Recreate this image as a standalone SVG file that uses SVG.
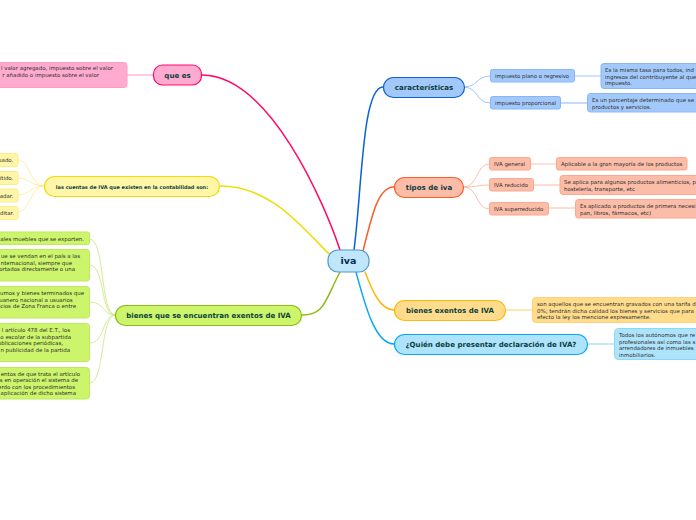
<svg xmlns="http://www.w3.org/2000/svg" width="696" height="520" viewBox="0 0 696 520">
<style>
text{font-family:"DejaVu Sans",Verdana,sans-serif}
.m{font-size:7.05px;font-weight:700;fill:#0c3f3f;text-anchor:middle}
.l{font-size:5.45px;fill:#2e2e2e}
.e{text-anchor:end}
.c{fill:none;stroke-linecap:round}
.t{stroke-width:1.5}
.s{stroke-width:.8}
.d{stroke-width:1.4}
.pink{fill:#ffabcf;stroke:#ff0a6c;stroke-width:1.2}.pinkl{fill:#ffabcf;stroke:#ff9cc6}
.yel{fill:#fff6a8;stroke:#f0dc0a;stroke-width:1.2}.yell{fill:#fff6a8;stroke:#fdeb8c}
.grn{fill:#ccf56c;stroke:#8cbc10;stroke-width:1.2}.grnl{fill:#ccf56c;stroke:#bfe860}
.blu{fill:#a3c9fb;stroke:#0b62d8;stroke-width:1.2}.blul{fill:#a3c9fb;stroke:#86b6f8}
.org{fill:#fbbca8;stroke:#f95e2c;stroke-width:1.2}.orgl{fill:#fbbca8;stroke:#fba88e}
.amb{fill:#ffdc8c;stroke:#ffb80a;stroke-width:1.2}.ambl{fill:#ffdc8c;stroke:#ffd27a}
.cya{fill:#aee3fc;stroke:#0aa8f2;stroke-width:1.2}.cyal{fill:#aee3fc;stroke:#8cd6fa}
</style>
<g id="connectors">
<path class="c t" stroke="#ff0a6c" d="M340 250C325 205 270 75 202 75"/>
<path class="c t" stroke="#f0dc0a" d="M330 255C300 225 270 186 220 186"/>
<path class="c t" stroke="#8cbc10" d="M340 272C325 300 325 315 302 315"/>
<path class="c t" stroke="#0b62d8" d="M354 250C362 190 362 87 383 87"/>
<path class="c t" stroke="#f95e2c" d="M363 251C372 215 378 187 394 187"/>
<path class="c t" stroke="#ffb80a" d="M365 272C372 290 380 310 394 310"/>
<path class="c t" stroke="#0aa8f2" d="M356 272C365 305 375 344 394 344"/>
<path class="c d" stroke="#ffb8d4" d="M127 75H153"/>
<path class="c s" stroke="#fdeb8c" d="M44 186C30 186 30 160 18 160M44 186C30 186 30 178 18 178M44 186C30 186 30 195 18 195M44 186C30 186 30 212 18 212"/>
<path class="c s" stroke="#c8e67c" d="M115 315C100 315 105 239 90 239M115 315C100 315 105 265 90 265M115 315C102 315 105 302 90 302M115 315C102 315 105 343 90 343M115 315C100 315 105 383 90 383"/>
<path class="c s" stroke="#86b6f8" d="M464 87C478 87 476 76 490 76M464 87C478 87 476 103 490 103"/>
<path class="c d" stroke="#c0d9fb" d="M574 76H601"/>
<path class="c d" stroke="#b4d0fa" d="M561 103H587"/>
<path class="c s" stroke="#fbb098" d="M464 187C478 187 476 164 489 164M464 187C478 187 476 185 489 185M464 187C478 187 476 209 489 209"/>
<path class="c d" stroke="#fdd8cc" d="M531 164H556"/>
<path class="c s" stroke="#fba88e" d="M534 185H560M549 208H575"/>
<path class="c d" stroke="#ffdf9c" d="M506 310H532"/>
<path class="c d" stroke="#aee3fc" d="M588 344H614"/>
</g>
<g id="iva"><rect x="328" y="250" width="41" height="22" rx="10" fill="#bfe6fb" stroke="#4f98d0" stroke-width="1.2"/><text x="348.500" y="264" text-anchor="middle" font-size="9.500" font-weight="700" fill="#0c2a52">iva</text></g>
<g id="caracteristicas"><rect class="blu" x="383.500" y="77.500" width="81" height="20" rx="10"/><text class="m" x="424" y="90.200">características</text></g>
<g id="tipos"><rect class="org" x="394.500" y="177.500" width="69" height="20" rx="10"/><text class="m" x="429" y="190.200">tipos de iva</text></g>
<g id="exentos"><rect class="amb" x="394.500" y="300.500" width="111" height="20" rx="10"/><text class="m" x="450" y="313.200">bienes exentos de IVA</text></g>
<g id="quien"><rect class="cya" x="394.500" y="334.500" width="193" height="20" rx="10"/><text class="m" x="491" y="347.200">¿Quién debe presentar declaración de IVA?</text></g>
<g id="quees"><rect class="pink" x="153.500" y="65" width="48" height="20" rx="9"/><text class="m" x="177.500" y="77.700">que es</text></g>
<g id="cuentas"><rect class="yel" x="44.500" y="176.500" width="175" height="20" rx="10"/><text x="132" y="188.800" text-anchor="middle" font-size="5px" font-weight="700" fill="#0c3f3f">las cuentas de IVA que existen en la contabilidad son:</text></g>
<g id="bienes"><rect class="grn" x="115.500" y="305.500" width="186" height="20" rx="10"/><text class="m" x="208.500" y="318.200">bienes que se encuentran exentos de IVA</text></g>

<g id="quees-d"><rect class="pinkl" x="-10" y="62.500" width="137" height="25" rx="3"/><text class="l e"><tspan x="113" y="70">l valor agregado, impuesto sobre el valor</tspan><tspan x="99" y="76.800">r añadido o impuesto sobre el valor</tspan></text></g>

<g id="c1"><rect class="yell" x="-10" y="153.500" width="28" height="13" rx="2"/><text class="l e" x="13.300" y="162">uado.</text></g>
<g id="c2"><rect class="yell" x="-10" y="171.500" width="28" height="13" rx="2"/><text class="l e" x="13.300" y="180">itido.</text></g>
<g id="c3"><rect class="yell" x="-10" y="189" width="28" height="13" rx="2"/><text class="l e" x="13.300" y="197.500">adar.</text></g>
<g id="c4"><rect class="yell" x="-10" y="206.500" width="28" height="13" rx="2"/><text class="l e" x="14" y="215">ditar.</text></g>

<g id="b1"><rect class="grnl" x="-10" y="232" width="99.500" height="12.500" rx="2"/><text class="l e" x="84" y="240.500">ales muebles que se exporten.</text></g>
<g id="b2"><rect class="grnl" x="-10" y="249.500" width="99.500" height="31.500" rx="3"/><text class="l e"><tspan x="80" y="258">ue se vendan en el país a las</tspan><tspan x="72" y="264.500">nternacional, siempre que</tspan><tspan x="75" y="271">portados directamente o una</tspan></text></g>
<g id="b3"><rect class="grnl" x="-10" y="286.500" width="99.500" height="31.500" rx="3"/><text class="l e"><tspan x="84" y="295">umos y bienes terminados que</tspan><tspan x="72.600" y="301.500">uanero nacional a usuarios</tspan><tspan x="76" y="308">icios de Zona Franca o entre</tspan></text></g>
<g id="b4"><rect class="grnl" x="-10" y="323.500" width="99.500" height="38" rx="3"/><text class="l e"><tspan x="70" y="332">l artículo 478 del E.T., los</tspan><tspan x="71" y="338.500">o escolar de la subpartida</tspan><tspan x="63" y="345">ublicaciones periódicas,</tspan><tspan x="70" y="351.500">n publicidad de la partida</tspan></text></g>
<g id="b5"><rect class="grnl" x="-10" y="367.500" width="99.500" height="31.500" rx="3"/><text class="l e"><tspan x="80" y="375.500">entos de que trata el artículo</tspan><tspan x="78" y="382">s en operación el sistema de</tspan><tspan x="75" y="388.500">erdo con los procedimientos</tspan><tspan x="76" y="395">aplicación de dicho sistema</tspan></text></g>

<g id="r1"><rect class="blul" x="490.500" y="69.500" width="84" height="12.500" rx="2"/><text class="l" x="495" y="78">impuesto plano o regresivo</text></g>
<g id="r1d"><rect class="blul" x="601" y="63.500" width="105" height="25" rx="3"/><text class="l"><tspan x="605" y="72">Es la misma tasa para todos, ind</tspan><tspan x="605" y="78.500">ingresos del contribuyente al que</tspan><tspan x="605" y="85">impuesto.</tspan></text></g>
<g id="r2"><rect class="blul" x="490.500" y="96.500" width="70" height="12.500" rx="2"/><text class="l" x="495" y="105">impuesto proporcional</text></g>
<g id="r2d"><rect class="blul" x="587.500" y="93.500" width="118" height="18.500" rx="3"/><text class="l"><tspan x="592" y="102">Es un porcentaje determinado que se</tspan><tspan x="592" y="109">productos y servicios.</tspan></text></g>

<g id="o1"><rect class="orgl" x="489.500" y="157.500" width="41" height="12.500" rx="2"/><text class="l" x="494" y="166">IVA general</text></g>
<g id="o1d"><rect class="orgl" x="556.500" y="157.500" width="130.500" height="12.500" rx="2"/><text class="l" x="561" y="166">Aplicable a la gran mayoría de los productos</text></g>
<g id="o2"><rect class="orgl" x="489.500" y="178.500" width="44" height="12.500" rx="2"/><text class="l" x="494" y="187">IVA reducido</text></g>
<g id="o2d"><rect class="orgl" x="560" y="175.500" width="146" height="19" rx="3"/><text class="l"><tspan x="564" y="184">Se aplica para algunos productos alimenticios, p</tspan><tspan x="564" y="190.500">hostelería, transporte, etc</tspan></text></g>
<g id="o3"><rect class="orgl" x="489.500" y="202.500" width="59" height="12.500" rx="2"/><text class="l" x="494" y="211">IVA superreducido</text></g>
<g id="o3d"><rect class="orgl" x="575.500" y="199.500" width="130" height="18.500" rx="3"/><text class="l"><tspan x="580" y="208">Es aplicado a productos de primera necesi</tspan><tspan x="580" y="214.500">pan, libros, fármacos, etc)</tspan></text></g>

<g id="a1"><rect class="ambl" x="532.500" y="297.500" width="173" height="25" rx="3"/><text class="l"><tspan x="537" y="306">son aquellos que se encuentran gravados con una tarifa d</tspan><tspan x="537" y="312.500">0%; tendrán dicha calidad los bienes y servicios que para</tspan><tspan x="537" y="319">efecto la ley los mencione expresamente.</tspan></text></g>
<g id="q1"><rect class="cyal" x="614.500" y="328.500" width="91" height="31" rx="4"/><text class="l"><tspan x="619" y="337">Todos los autónomos que re</tspan><tspan x="619" y="343.500">profesionales así como las s</tspan><tspan x="619" y="350">arrendadores de inmuebles</tspan><tspan x="619" y="356.500">inmobiliarios.</tspan></text></g>
</svg>
